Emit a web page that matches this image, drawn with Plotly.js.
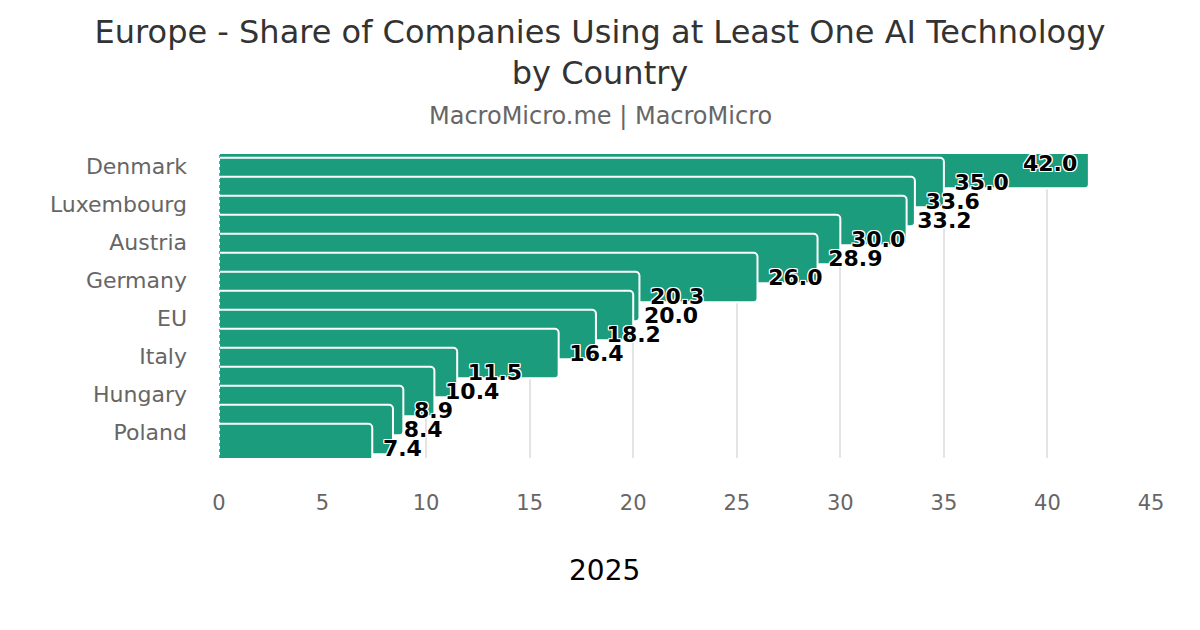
<!DOCTYPE html>
<html><head><meta charset="utf-8">
<script src="https://cdn.plot.ly/plotly-3.0.1.min.js"></script>
<style>html,body{margin:0;padding:0;background:#fff}</style>
</head><body><div id="chart" style="width:1200px;height:630px"></div>
<script>
const countries = ["Denmark","Sweden","Luxembourg","Netherlands","Austria","Belgium","Germany","France","EU","Spain","Italy","Greece","Hungary","Bulgaria","Poland","Romania"];
const values2025 = [42.0,35.0,33.6,33.2,30.0,28.9,26.0,20.3,20.0,18.2,16.4,11.5,10.4,8.9,8.4,7.4];
const labeledCountries = ["Denmark","Luxembourg","Austria","Germany","EU","Italy","Hungary","Poland"];
const xTicks = [0,5,10,15,20,25,30,35,40,45];
const seriesName = "2025";
const titleText = "Europe - Share of Companies Using at Least One AI Technology<br>by Country";
const subtitleText = "MacroMicro.me | MacroMicro";
const labelPos = values2025.map((v,i)=> i===0 ? "inside" : "outside");

const FONT = "DejaVu Sans";
const shadow = "1px 1px 0 #fff, -1px -1px 0 #fff, 1px -1px 0 #fff, -1px 1px 0 #fff, 0 1px 0 #fff, 0 -1px 0 #fff, 1px 0 0 #fff, -1px 0 0 #fff";

const trace = {
  type: "bar",
  orientation: "h",
  x: values2025,
  y: countries,
  name: seriesName,
  width: 2.6,
  marker: {color: "#1b9c7c", line: {color: "#ffffff", width: 2}, cornerradius: 4},
  texttemplate: "\u00a0%{x:.1f}\u00a0",
  textposition: labelPos,
  insidetextanchor: "end",
  constraintext: "none",
  textfont: {family: FONT, size: 22, color: "#000", weight: "bold", shadow: shadow},
  cliponaxis: true,
  hoverinfo: "x+y"
};

const layout = {
  width: 1200, height: 630,
  paper_bgcolor: "#fff", plot_bgcolor: "#fff",
  margin: {l: 219, r: 49, t: 154, b: 172},
  showlegend: false,
  title: {
    text: titleText,
    font: {family: FONT, size: 32, color: "#333"},
    x: 0.5, xanchor: "center", xref: "container",
    y: 0.932, yanchor: "top", yref: "container"
  },
  xaxis: {
    range: [0, 45], tickvals: xTicks, ticktext: xTicks.map(String),
    showgrid: true, gridcolor: "#e4e4e4", gridwidth: 2,
    zeroline: false, showline: false,
    ticks: "", ticklabelstandoff: 30,
    tickfont: {family: FONT, size: 21, color: "#666"},
    fixedrange: true
  },
  yaxis: {
    type: "category", categoryorder: "array", categoryarray: countries,
    range: [15.5, -0.5],
    tickmode: "array", tickvals: labeledCountries, ticktext: labeledCountries,
    showgrid: false, zeroline: false, showline: false,
    ticks: "", ticklabelstandoff: 31, ticklabelshift: -3,
    tickfont: {family: FONT, size: 22, color: "#666"},
    fixedrange: true
  },
  shapes: [{
    type: "line", xref: "x", yref: "paper", x0: 0, x1: 0, y0: 0, y1: 1,
    line: {color: "#999", width: 2, dash: "3px,3px"}, layer: "above"
  }],
  annotations: [{
    text: subtitleText, xref: "paper", yref: "paper", x: 0.4088, y: 1.125,
    xanchor: "center", yanchor: "middle", showarrow: false,
    font: {family: FONT, size: 24, color: "#666"}
  }, {
    text: seriesName, xref: "paper", yref: "paper", x: 0.414, y: -0.37,
    xanchor: "center", yanchor: "middle", showarrow: false,
    font: {family: FONT, size: 28, color: "#000"}
  }]
};

Plotly.newPlot("chart", [trace], layout, {displayModeBar: false, staticPlot: true});
</script>
</body></html>
